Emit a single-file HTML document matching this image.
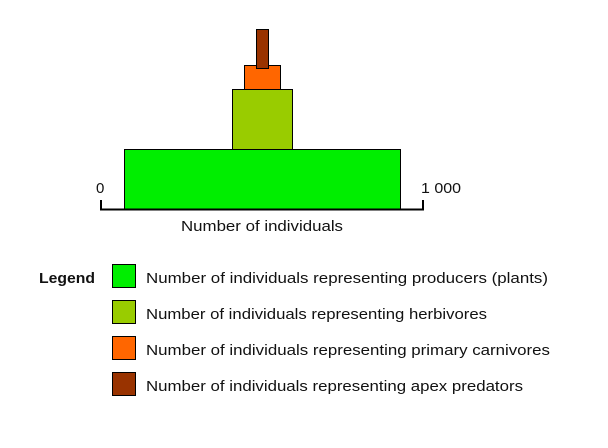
<!DOCTYPE html>
<html><head><meta charset="utf-8"><style>
body{margin:0;background:#fff;width:608px;height:443px;overflow:hidden;font-family:"Liberation Sans",sans-serif;}
</style></head><body>
<svg width="608" height="443" xmlns="http://www.w3.org/2000/svg" font-family="Liberation Sans, sans-serif" font-size="15" fill="#111">
<rect x="124.5" y="149.5" width="276" height="60" fill="#00ee00" stroke="#000" stroke-width="1"/>
<rect x="232.5" y="89.5" width="60" height="60" fill="#99cc00" stroke="#000" stroke-width="1"/>
<rect x="244.5" y="65.5" width="36" height="24" fill="#ff6600" stroke="#000" stroke-width="1"/>
<rect x="256.5" y="29.5" width="12" height="39" fill="#993300" stroke="#000" stroke-width="1"/>
<path d="M101 200 V209.5 H423 V200" fill="none" stroke="#000" stroke-width="2"/>
<text x="96" y="193">0</text>
<text x="421" y="193" textLength="40" lengthAdjust="spacingAndGlyphs">1 000</text>
<text x="181" y="231" textLength="162" lengthAdjust="spacingAndGlyphs">Number of individuals</text>
<text x="39" y="283" font-weight="bold" textLength="56" lengthAdjust="spacingAndGlyphs">Legend</text>
<rect x="112.5" y="264.5" width="23" height="23" fill="#00ee00" stroke="#000"/>
<rect x="112.5" y="300.5" width="23" height="23" fill="#99cc00" stroke="#000"/>
<rect x="112.5" y="336.5" width="23" height="23" fill="#ff6600" stroke="#000"/>
<rect x="112.5" y="372.5" width="23" height="23" fill="#993300" stroke="#000"/>
<text x="146" y="283" textLength="402" lengthAdjust="spacingAndGlyphs">Number of individuals representing producers (plants)</text>
<text x="146" y="319" textLength="341" lengthAdjust="spacingAndGlyphs">Number of individuals representing herbivores</text>
<text x="146" y="355" textLength="404" lengthAdjust="spacingAndGlyphs">Number of individuals representing primary carnivores</text>
<text x="146" y="391" textLength="377" lengthAdjust="spacingAndGlyphs">Number of individuals representing apex predators</text>
</svg>
</body></html>
